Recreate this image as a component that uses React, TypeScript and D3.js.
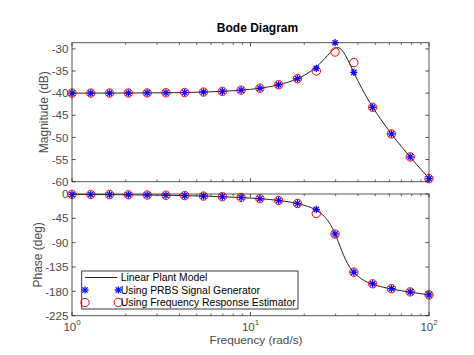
import React from "react";
import * as d3 from "d3";

// ---------- data ----------
const title = "Bode Diagram";
const xLabel = "Frequency  (rad/s)";
const magLabel = "Magnitude (dB)";
const phaseLabel = "Phase (deg)";
const legendLabels = ["Linear Plant Model", "Using PRBS Signal Generator", "Using Frequency Response Estimator"];

const xTickExps = [0, 1, 2];
const magTicks = [-30, -35, -40, -45, -50, -55, -60];
const phaseTicks = [0, -45, -90, -135, -180, -225];

// Linear plant model (continuous curve)
const modelFreq = [1, 1.624, 2.637, 4.281, 6.952, 8.859, 11.29, 14.38, 18.33, 20.5, 23.36, 26, 28, 29.76, 30.3, 31, 32.5, 34, 36, 37.93, 42, 48.33, 55, 61.58, 70, 78.48, 100];
const modelMag = [-39.99, -39.98, -39.94, -39.85, -39.59, -39.32, -38.88, -38.11, -36.72, -35.72, -34.07, -32.23, -30.79, -29.88, -29.75, -29.73, -30.27, -31.44, -33.41, -35.34, -38.9, -43.14, -46.52, -49.21, -52.04, -54.43, -59.25];
const modelPhase = [-0.69, -1.12, -1.83, -3.0, -4.99, -6.52, -8.69, -11.95, -17.57, -21.9, -30.0, -42.0, -56.2, -73.6, -79.75, -88.0, -105.5, -120.5, -135.4, -145.1, -157.3, -166.7, -172.1, -175.6, -178.9, -181.5, -186.4];

// Measured frequencies
const measFreq = [1, 1.274, 1.624, 2.069, 2.637, 3.36, 4.281, 5.456, 6.952, 8.859, 11.29, 14.38, 18.33, 23.36, 29.76, 37.93, 48.33, 61.58, 78.48, 100];
const prbsMag = [-39.99, -39.99, -39.98, -39.96, -39.94, -39.91, -39.85, -39.75, -39.59, -39.32, -38.88, -38.11, -36.72, -34.4, -28.6, -35.3, -43.2, -49.2, -54.4, -59.3];
const freMag = [-39.99, -39.99, -39.98, -39.96, -39.94, -39.91, -39.85, -39.75, -39.59, -39.32, -38.88, -38.11, -36.72, -35.0, -30.7, -33.1, -43.2, -49.2, -54.4, -59.3];
const prbsPhase = [-0.69, -0.88, -1.12, -1.43, -1.83, -2.34, -3.0, -3.86, -4.99, -6.52, -8.69, -11.95, -17.57, -28.5, -74.0, -144.5, -166.0, -175.0, -181.0, -186.5];
const frePhase = [-0.69, -0.88, -1.12, -1.43, -1.83, -2.34, -3.0, -3.86, -4.99, -6.52, -8.69, -11.95, -17.57, -36.0, -74.0, -144.5, -166.0, -175.0, -181.0, -186.5];

// ---------- layout ----------
const W = 474, H = 355;
const L = 72, R = 429;
const magTop = 42.7, magBot = 181.7;
const phTop = 194, phBot = 315.7;
const axisColor = "#262626";
const textColor = "#4a4a4a";
const font = "'Liberation Sans', Arial, Helvetica, sans-serif";
const tickLen = 3.6;

const x = d3.scaleLog().domain([1, 100]).range([L, R]);
const yMag = d3.scaleLinear().domain([-60, -28.6]).range([magBot, magTop]);
const yPh = d3.scaleLinear().domain([-225, 0]).range([phBot, phTop]);

const minorTicks: number[] = [];
for (let d = 1; d <= 10; d *= 10) for (let k = 2; k <= 9; k++) minorTicks.push(d * k);

function Star({ cx, cy, s = 3.6, color = "#0000ff" }: { cx: number; cy: number; s?: number; color?: string }) {
  const dd = s * 0.72;
  return (
    <g stroke={color} strokeWidth={1.3}>
      <line x1={cx - s} y1={cy} x2={cx + s} y2={cy} />
      <line x1={cx} y1={cy - s} x2={cx} y2={cy + s} />
      <line x1={cx - dd} y1={cy - dd} x2={cx + dd} y2={cy + dd} />
      <line x1={cx - dd} y1={cy + dd} x2={cx + dd} y2={cy - dd} />
    </g>
  );
}

function Circle({ cx, cy }: { cx: number; cy: number }) {
  return <circle cx={cx} cy={cy} r={4.2} fill="none" stroke="#ff0000" strokeWidth={1} />;
}

function AxesFrame({ top, bot, yScale, yTicks }: { top: number; bot: number; yScale: d3.ScaleLinear<number, number>; yTicks: number[] }) {
  return (
    <g>
      <rect x={L} y={top} width={R - L} height={bot - top} fill="white" stroke="none" />
      {yTicks.map((t) => (
        <g key={"y" + t}>
          <line x1={L} x2={L + tickLen} y1={yScale(t)} y2={yScale(t)} stroke={axisColor} strokeWidth={0.8} />
          <line x1={R} x2={R - tickLen} y1={yScale(t)} y2={yScale(t)} stroke={axisColor} strokeWidth={0.8} />
          <text x={L - 3.7} y={yScale(t)} dy="0.36em" textAnchor="end" fontSize={11.5} fill={textColor} fontFamily={font}>
            {t}
          </text>
        </g>
      ))}
      {xTickExps.map((e) => (
        <g key={"x" + e}>
          <line x1={x(10 ** e)} x2={x(10 ** e)} y1={bot} y2={bot - tickLen} stroke={axisColor} strokeWidth={0.8} />
          <line x1={x(10 ** e)} x2={x(10 ** e)} y1={top} y2={top + tickLen} stroke={axisColor} strokeWidth={0.8} />
        </g>
      ))}
      {minorTicks.map((m) => (
        <g key={"m" + m}>
          <line x1={x(m)} x2={x(m)} y1={bot} y2={bot - 2.2} stroke={axisColor} strokeWidth={0.7} />
          <line x1={x(m)} x2={x(m)} y1={top} y2={top + 2.2} stroke={axisColor} strokeWidth={0.7} />
        </g>
      ))}
    </g>
  );
}

function Border({ top, bot }: { top: number; bot: number }) {
  return <rect x={L} y={top} width={R - L} height={bot - top} fill="none" stroke={axisColor} strokeWidth={0.9} opacity={0.85} />;
}

export default function App() {
  const magLine = d3
    .line<number>()
    .x((_, i) => x(modelFreq[i]))
    .y((d) => yMag(d))
    .curve(d3.curveMonotoneX)(modelMag) as string;
  const phLine = d3
    .line<number>()
    .x((_, i) => x(modelFreq[i]))
    .y((d) => yPh(d))
    .curve(d3.curveMonotoneX)(modelPhase) as string;

  const lgX = 81.7, lgY = 271, lgW = 216.3, lgH = 38;
  const rowY = [277.5, 290, 302.5];

  return (
    <svg width={W} height={H} style={{ position: "absolute", left: 0, top: 0, background: "white" }} fontFamily={font}>
      <rect x={0} y={0} width={W} height={H} fill="white" />
      <text x={257.5} y={31.5} textAnchor="middle" fontSize={12} fontWeight="bold" fill="#000">
        {title}
      </text>

      <AxesFrame top={magTop} bot={magBot} yScale={yMag} yTicks={magTicks} />
      <AxesFrame top={phTop} bot={phBot} yScale={yPh} yTicks={phaseTicks} />

      <path d={magLine} fill="none" stroke="#262626" strokeWidth={1} />
      {measFreq.map((f, i) => (
        <Circle key={"mc" + i} cx={x(f)} cy={yMag(freMag[i])} />
      ))}
      {measFreq.map((f, i) => (
        <Star key={"ms" + i} cx={x(f)} cy={yMag(prbsMag[i])} />
      ))}

      <path d={phLine} fill="none" stroke="#262626" strokeWidth={1} />
      {measFreq.map((f, i) => (
        <Circle key={"pc" + i} cx={x(f)} cy={yPh(frePhase[i])} />
      ))}
      {measFreq.map((f, i) => (
        <Star key={"ps" + i} cx={x(f)} cy={yPh(prbsPhase[i])} />
      ))}

      <Border top={magTop} bot={magBot} />
      <Border top={phTop} bot={phBot} />

      {xTickExps.map((e) => (
        <text key={"xl" + e} x={x(10 ** e)} y={330.8} textAnchor="middle" fontSize={11.5} fill={textColor}>
          10
          <tspan dy={-5.5} fontSize={8}>
            {e}
          </tspan>
        </text>
      ))}

      <text x={256} y={344} textAnchor="middle" fontSize={11.8} fill={textColor}>
        {xLabel}
      </text>
      <text transform={`translate(47.5,${(magTop + magBot) / 2}) rotate(-90)`} textAnchor="middle" fontSize={12} fill={textColor}>
        {magLabel}
      </text>
      <text transform={`translate(42,${(phTop + phBot) / 2}) rotate(-90)`} textAnchor="middle" fontSize={12} fill={textColor}>
        {phaseLabel}
      </text>

      <rect x={lgX} y={lgY} width={lgW} height={lgH} fill="white" stroke={axisColor} strokeWidth={0.9} />
      <line x1={85} x2={117.3} y1={rowY[0]} y2={rowY[0]} stroke="#262626" strokeWidth={1} />
      <Star cx={85} cy={rowY[1]} />
      <Star cx={118.3} cy={rowY[1]} />
      <Circle cx={85} cy={rowY[2]} />
      <Circle cx={118.3} cy={rowY[2]} />
      {legendLabels.map((t, i) => (
        <text key={"lg" + i} x={120.7} y={rowY[i]} dy="0.36em" fontSize={10.4} fill="#000">
          {t}
        </text>
      ))}
    </svg>
  );
}
